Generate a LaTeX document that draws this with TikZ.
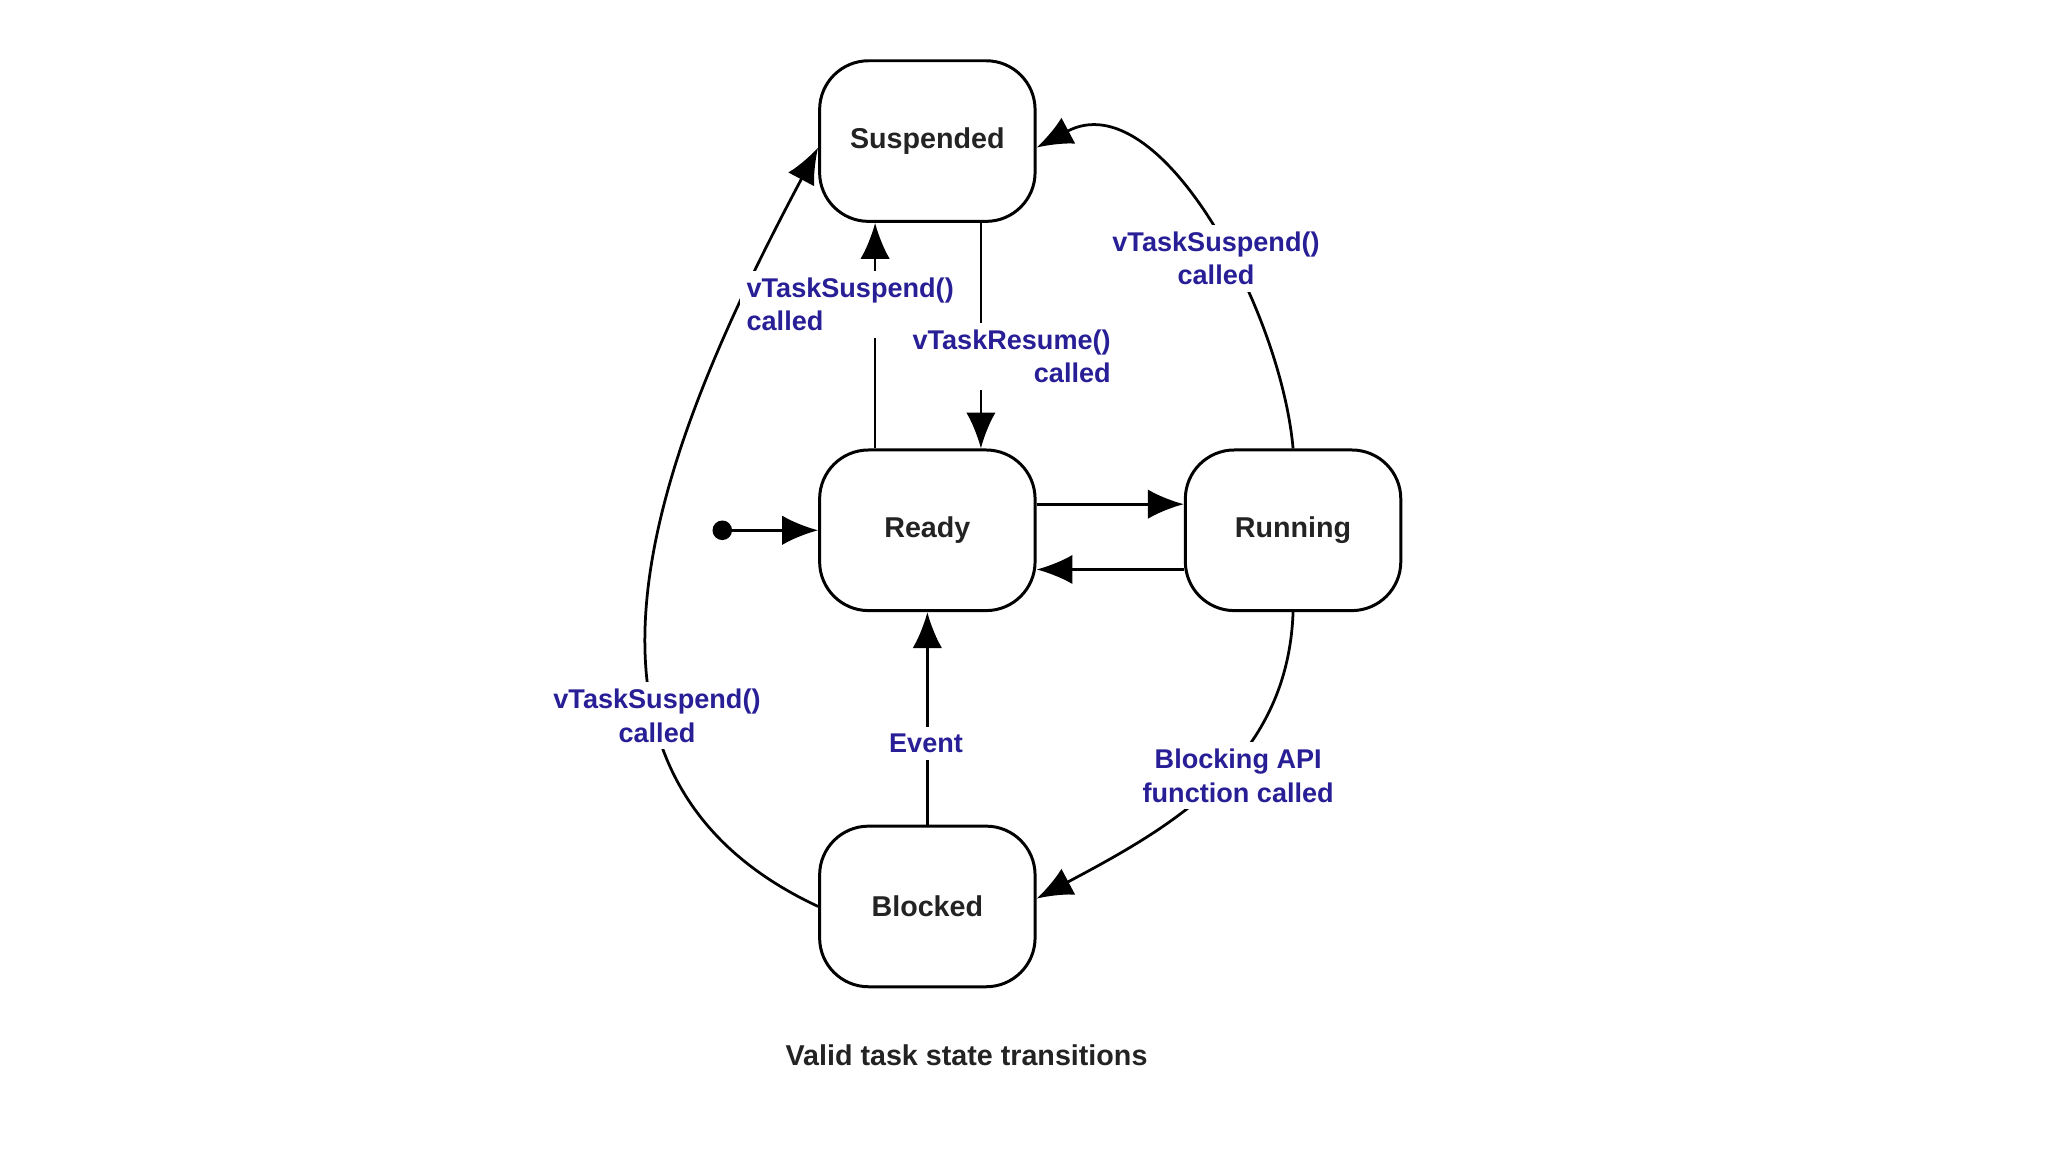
\documentclass[tikz,border=0pt]{standalone}
\usepackage{fontspec}
\setmainfont{Liberation Sans}
\usetikzlibrary{arrows.meta}
\definecolor{lbl}{RGB}{40,30,150}
\definecolor{txt}{RGB}{35,35,35}
\begin{document}
\begin{tikzpicture}[x=0.02cm,y=-0.02cm,
  state/.style={draw=black,line width=1.3pt,rounded corners=0.75cm,minimum width=3.3cm,minimum height=2.46cm,font=\bfseries\fontsize{12.5}{14}\selectfont,text=txt},
  tr/.style={line width=1.2pt,-{Latex[length=0.55cm,width=0.45cm]}},
  lab/.style={fill=white,text=lbl,font=\bfseries\fontsize{11.8}{14.5}\selectfont,inner sep=3pt}]
\useasboundingbox (0,0) rectangle (1568,882);
\node[state] (sus) at (710,108) {Suspended};
\node[state] (rdy) at (710,406) {Ready};
\node[state] (run) at (990,406) {Running};
\node[state] (blk) at (710,694) {Blocked};
\fill (553,406) circle (0.15cm);
\coordinate (st) at (553,406);
\draw[tr] (st) -- (rdy.west);
\draw[tr] (rdy.north -| 670,0) -- (sus.south -| 670,0);
\draw[tr] (sus.south -| 751,0) -- (rdy.north -| 751,0);
\draw[tr] (rdy.east |- 0,386) -- (run.west |- 0,386);
\draw[tr] (run.west |- 0,436) -- (rdy.east |- 0,436);
\draw[tr] (blk.north) -- (rdy.south);
\draw[tr] (run.north) to[out=95,in=28,looseness=0.9] (sus.east |- 0,113);
\draw[tr] (run.south) to[out=-92,in=28] (blk.east |- 0,688);
\draw[tr] (blk.west) to[out=155,in=-118,looseness=1.1] (sus.west |- 0,113);
\node[lab,anchor=west,align=left] (l1) at (566,233) {vTaskSuspend()\\called};
\node[lab,anchor=east,align=right] (l2) at (856,273) {vTaskResume()\\called};
\node[lab,align=center] (l3) at (931,198) {vTaskSuspend()\\called};
\node[lab,align=center] (l4) at (948,594) {Blocking API\\function called};
\node[lab,align=center] (l5) at (503,548) {vTaskSuspend()\\called};
\node[lab] (l6) at (709,569) {Event};
\node[text=txt,font=\bfseries\fontsize{12.5}{14}\selectfont] (cap) at (740,808) {Valid task state transitions};
\end{tikzpicture}
\end{document}
